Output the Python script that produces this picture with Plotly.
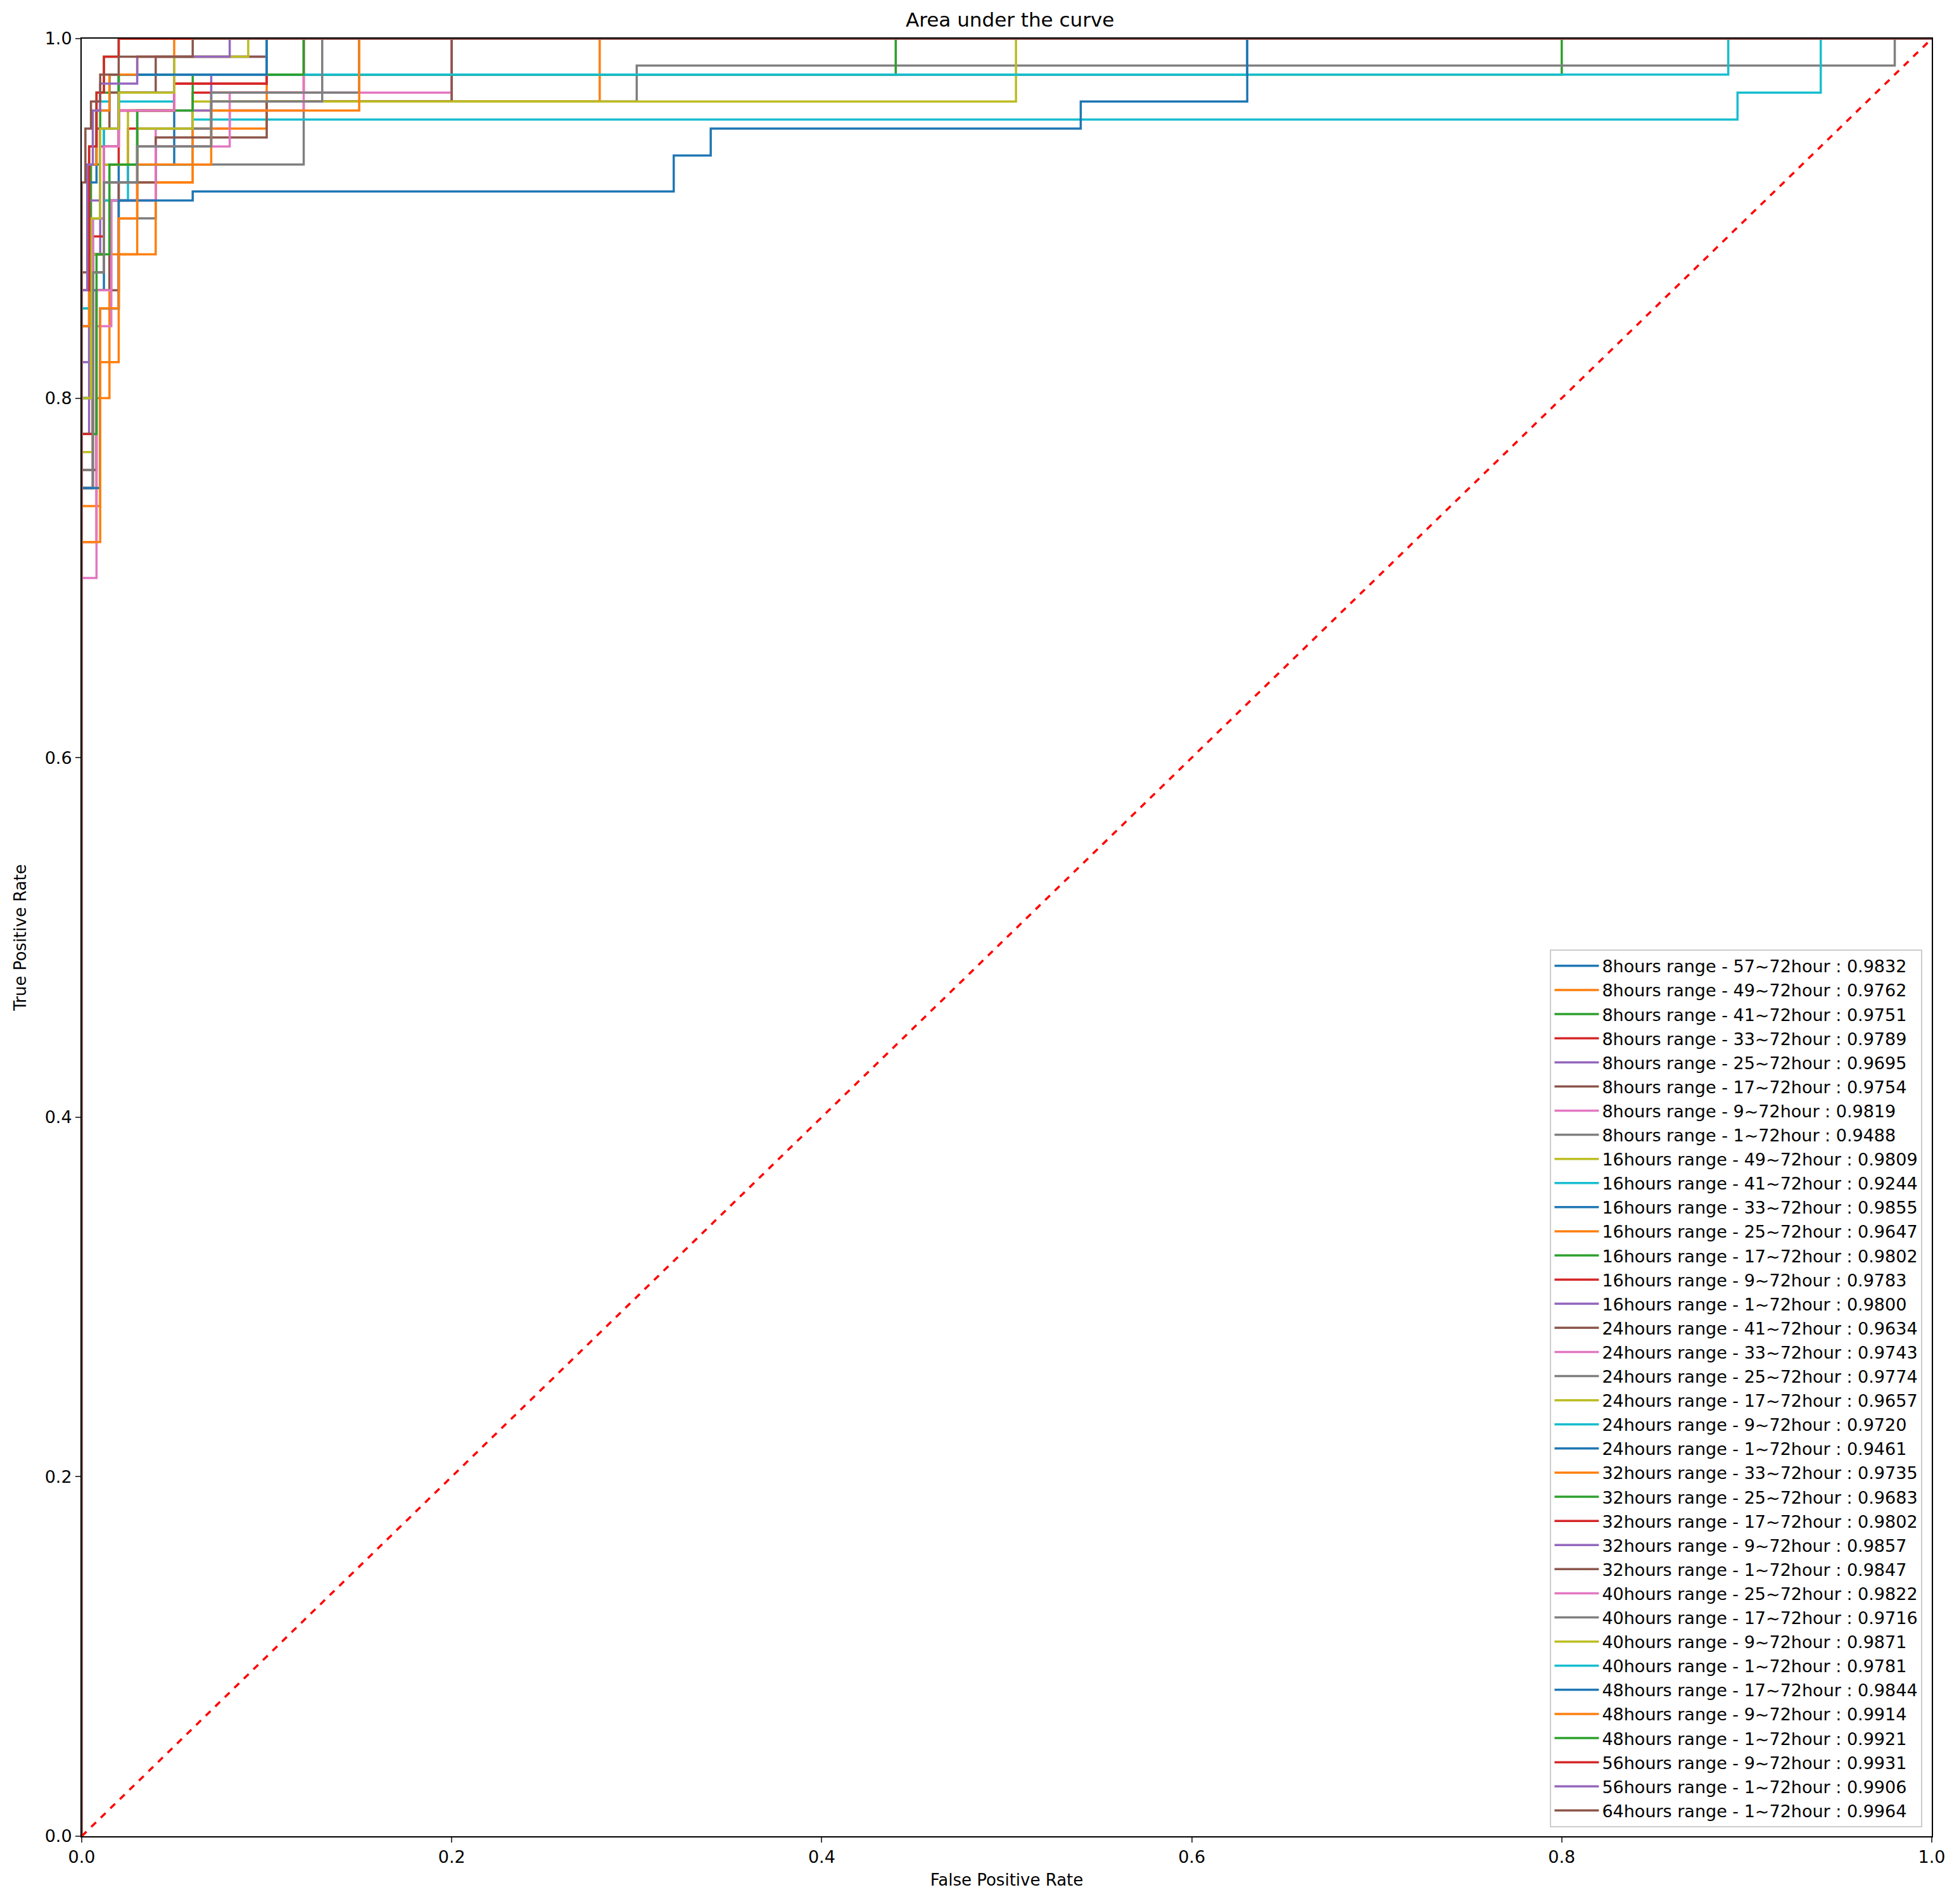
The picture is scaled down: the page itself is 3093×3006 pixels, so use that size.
import plotly.graph_objects as go

labels = [
 "8hours range - 57~72hour : 0.9832","8hours range - 49~72hour : 0.9762","8hours range - 41~72hour : 0.9751",
 "8hours range - 33~72hour : 0.9789","8hours range - 25~72hour : 0.9695","8hours range - 17~72hour : 0.9754",
 "8hours range - 9~72hour : 0.9819","8hours range - 1~72hour : 0.9488","16hours range - 49~72hour : 0.9809",
 "16hours range - 41~72hour : 0.9244","16hours range - 33~72hour : 0.9855","16hours range - 25~72hour : 0.9647",
 "16hours range - 17~72hour : 0.9802","16hours range - 9~72hour : 0.9783","16hours range - 1~72hour : 0.9800",
 "24hours range - 41~72hour : 0.9634","24hours range - 33~72hour : 0.9743","24hours range - 25~72hour : 0.9774",
 "24hours range - 17~72hour : 0.9657","24hours range - 9~72hour : 0.9720","24hours range - 1~72hour : 0.9461",
 "32hours range - 33~72hour : 0.9735","32hours range - 25~72hour : 0.9683","32hours range - 17~72hour : 0.9802",
 "32hours range - 9~72hour : 0.9857","32hours range - 1~72hour : 0.9847","40hours range - 25~72hour : 0.9822",
 "40hours range - 17~72hour : 0.9716","40hours range - 9~72hour : 0.9871","40hours range - 1~72hour : 0.9781",
 "48hours range - 17~72hour : 0.9844","48hours range - 9~72hour : 0.9914","48hours range - 1~72hour : 0.9921",
 "56hours range - 9~72hour : 0.9931","56hours range - 1~72hour : 0.9906","64hours range - 1~72hour : 0.9964",
]

fpr = [
 [0,0,0.006,0.012,0.02,0.05,0.1,0.69,1],
 [0,0,0.008,0.015,0.03,0.06,0.1,0.31,1],
 [0,0,0.005,0.01,0.02,0.05,0.8,0.93,1],
 [0,0,0.006,0.012,0.025,0.06,0.12,0.3,1],
 [0,0,0.006,0.012,0.03,0.07,0.15,0.67,1],
 [0,0,0.008,0.015,0.03,0.07,0.2,0.33,1],
 [0,0,0.008,0.016,0.04,0.08,0.2,0.34,1],
 [0,0,0.01,0.02,0.04,0.12,0.3,0.98,1],
 [0,0,0.006,0.012,0.025,0.05,0.12,0.23,1],
 [0,0,0.006,0.012,0.025,0.06,0.895,0.94,0.99,1],
 [0,0,0.006,0.012,0.02,0.1,0.63,0.69,1],
 [0,0,0.01,0.02,0.04,0.06,0.1,0.28,0.3,1],
 [0,0,0.005,0.01,0.02,0.1,0.44,0.5,1],
 [0,0,0.006,0.012,0.02,0.05,0.1,0.3,1],
 [0,0,0.004,0.01,0.02,0.05,0.1,0.24,1],
 [0,0,0.008,0.02,0.04,0.1,0.2,0.3,1],
 [0,0,0.008,0.016,0.04,0.08,0.12,0.33,1],
 [0,0,0.006,0.012,0.03,0.07,0.15,0.3,1],
 [0,0,0.006,0.012,0.03,0.06,0.505,1],
 [0,0,0.006,0.012,0.02,0.05,0.89,1],
 [0,0,0.01,0.02,0.06,0.32,0.34,0.54,0.63,1],
 [0,0,0.01,0.02,0.03,0.07,0.15,0.3,1],
 [0,0,0.008,0.015,0.03,0.06,0.12,0.44,1],
 [0,0,0.006,0.012,0.02,0.05,0.1,0.31,1],
 [0,0,0.004,0.01,0.02,0.05,0.1,0.28,1],
 [0,0,0.004,0.008,0.015,0.04,0.1,0.2,1],
 [0,0,0.006,0.012,0.02,0.05,0.1,0.34,1],
 [0,0,0.006,0.012,0.03,0.07,0.13,0.74,1],
 [0,0,0.005,0.01,0.02,0.05,0.09,0.16,1],
 [0,0,0.004,0.008,0.015,0.03,0.1,0.82,1],
 [0,0,0.004,0.008,0.015,0.03,0.1,0.63,1],
 [0,0,0.004,0.008,0.015,0.03,0.05,0.07,1],
 [0,0,0.004,0.008,0.012,0.02,0.03,0.05,1],
 [0,0,0.004,0.008,0.012,0.02,0.05,0.08,1],
 [0,0,0.003,0.006,0.01,0.03,0.08,0.29,1],
 [0,0,0.002,0.005,0.01,0.02,0.06,0.15,1],
]
tpr = [
 [0,0.3,0.75,0.86,0.91,0.93,0.98,1,1],
 [0,0.25,0.72,0.8,0.88,0.92,0.96,1,1],
 [0,0.3,0.8,0.9,0.95,0.98,0.98,1,1],
 [0,0.3,0.75,0.87,0.92,0.95,0.97,1,1],
 [0,0.3,0.78,0.88,0.93,0.96,0.98,1,1],
 [0,0.3,0.76,0.86,0.91,0.94,0.965,1,1],
 [0,0.2,0.7,0.84,0.91,0.95,0.97,1,1],
 [0,0.3,0.75,0.85,0.9,0.93,0.965,0.985,1],
 [0,0.3,0.78,0.88,0.93,0.96,0.98,1,1],
 [0,0.3,0.78,0.88,0.91,0.93,0.955,0.97,1,1],
 [0,0.3,0.8,0.9,0.95,0.98,0.98,1,1],
 [0,0.25,0.74,0.82,0.88,0.92,0.95,0.965,1,1],
 [0,0.3,0.85,0.93,0.97,0.98,0.98,1,1],
 [0,0.3,0.78,0.88,0.93,0.96,0.975,1,1],
 [0,0.25,0.78,0.88,0.94,0.97,0.98,1,1],
 [0,0.3,0.76,0.86,0.92,0.945,0.965,1,1],
 [0,0.2,0.72,0.86,0.91,0.94,0.96,1,1],
 [0,0.3,0.75,0.87,0.92,0.95,0.97,1,1],
 [0,0.3,0.77,0.88,0.93,0.95,0.965,1],
 [0,0.3,0.8,0.9,0.95,0.965,0.98,1],
 [0,0.3,0.75,0.85,0.91,0.915,0.935,0.95,0.965,1],
 [0,0.25,0.72,0.85,0.9,0.93,0.96,1,1],
 [0,0.3,0.78,0.88,0.93,0.96,0.98,1,1],
 [0,0.3,0.78,0.89,0.94,0.96,0.975,1,1],
 [0,0.3,0.82,0.91,0.95,0.97,0.99,1,1],
 [0,0.5,0.87,0.93,0.95,0.97,0.99,1,1],
 [0,0.3,0.8,0.9,0.94,0.96,0.98,1,1],
 [0,0.3,0.76,0.87,0.92,0.94,0.965,1,1],
 [0,0.3,0.8,0.9,0.95,0.97,0.99,1,1],
 [0,0.3,0.85,0.93,0.965,0.98,0.98,1,1],
 [0,0.3,0.84,0.92,0.96,0.98,0.98,1,1],
 [0,0.3,0.84,0.93,0.96,0.98,0.99,1,1],
 [0,0.35,0.86,0.94,0.97,0.99,1,1,1],
 [0,0.35,0.86,0.94,0.97,0.99,1,1,1],
 [0,0.3,0.86,0.93,0.96,0.975,0.99,1,1],
 [0,0.87,0.92,0.95,0.965,0.98,0.99,1,1],
]

colors = ["#1f77b4","#ff7f0e","#2ca02c","#d62728","#9467bd","#8c564b","#e377c2","#7f7f7f","#bcbd22","#17becf"]

fig = go.Figure()
for i, (x, y, lab) in enumerate(zip(fpr, tpr, labels)):
    fig.add_trace(go.Scatter(x=x, y=y, mode="lines", name=lab, line_shape="vh",
                             line=dict(color=colors[i % 10], width=3.5)))
fig.add_trace(go.Scatter(x=[0, 1], y=[0, 1], mode="lines", showlegend=False,
                         line=dict(color="red", width=3.5, dash="dash")))

ax = dict(range=[0, 1], showgrid=False, zeroline=False, showline=True, mirror=True,
          linecolor="black", linewidth=2, ticks="outside", ticklen=8, tickwidth=2,
          tickvals=[0, 0.2, 0.4, 0.6, 0.8, 1.0], ticktext=["0.0","0.2","0.4","0.6","0.8","1.0"],
          tickfont=dict(size=27, color="black"))
fig.update_layout(
    width=3093, height=3006, plot_bgcolor="white", paper_bgcolor="white",
    font=dict(family="DejaVu Sans", color="black"),
    margin=dict(l=121, r=51, t=53, b=115),
    title=dict(text="Area under the curve", x=0.513, xanchor="center", y=0.996, yanchor="top",
               font=dict(size=31)),
    xaxis=dict(ax, title=dict(text="False Positive Rate", font=dict(size=26), standoff=12)),
    yaxis=dict(ax, title=dict(text="True Positive Rate", font=dict(size=26), standoff=22)),
    legend=dict(x=0.995, y=0.005, xanchor="right", yanchor="bottom", bgcolor="white",
                bordercolor="#cccccc", borderwidth=2, font=dict(size=27), tracegroupgap=0,
                itemwidth=70),
)
fig.write_html("out.html")
